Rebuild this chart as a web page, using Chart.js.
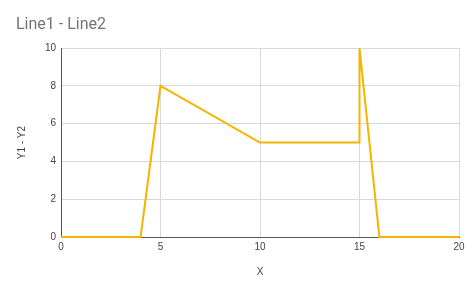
<!DOCTYPE html>
<html>
<head>
<meta charset="utf-8">
<script src="https://cdn.jsdelivr.net/npm/chart.js@4"></script>
<style>
  html, body { margin: 0; padding: 0; background: #fff; }
  #wrap { width: 474px; height: 293px; }
</style>
</head>
<body>
<div id="wrap"><canvas id="chart"></canvas></div>
<script>
const xValues = [0, 4, 5, 10, 15, 15, 16, 20];
const yValues = [0, 0, 8, 5, 5, 10, 0, 0];
const seriesLabel = 'Line1 - Line2';

const points = xValues.map((x, i) => ({ x: x, y: yValues[i] }));

new Chart(document.getElementById('chart'), {
    type: 'scatter',
    data: {
        datasets: [{
            label: seriesLabel,
            data: points,
            showLine: true,
            borderColor: '#f4b400',
            borderWidth: 2,
            pointRadius: 0,
            tension: 0,
            clip: false
        }]
    },
    options: {
        responsive: true,
        maintainAspectRatio: false,
        animation: false,
        layout: {
            padding: { left: 16, right: 15, top: 0, bottom: 0 }
        },
        scales: {
            x: {
                type: 'linear',
                min: 0,
                max: 20,
                afterFit: (s) => { s.height = 56; },
                ticks: {
                    stepSize: 5,
                    padding: 4,
                    color: '#444',
                    font: { family: 'Liberation Sans, Arial', size: 10 }
                },
                grid: { color: '#d9d9d9', drawTicks: false },
                border: { color: '#555', width: 1 },
                title: {
                    display: true,
                    text: 'X',
                    color: '#444',
                    padding: { top: 0, bottom: 15 },
                    font: { family: 'Liberation Sans, Arial', size: 10 }
                }
            },
            y: {
                min: 0,
                max: 10,
                afterFit: (s) => { s.width = 45; },
                ticks: {
                    stepSize: 2,
                    padding: 5,
                    color: '#444',
                    font: { family: 'Liberation Sans, Arial', size: 10 }
                },
                grid: { color: '#d9d9d9', drawTicks: false },
                border: { color: '#555', width: 1 },
                title: {
                    display: true,
                    text: 'Y1 - Y2',
                    color: '#444',
                    padding: { top: 0, bottom: 0 },
                    font: { family: 'Liberation Sans, Arial', size: 10 }
                }
            }
        },
        plugins: {
            legend: { display: false },
            tooltip: { enabled: false },
            title: {
                display: true,
                text: seriesLabel,
                align: 'start',
                color: '#757575',
                padding: { top: 15, bottom: 14 },
                font: { family: 'Roboto', size: 16, weight: 'normal' }
            }
        }
    }
});
</script>
</body>
</html>
